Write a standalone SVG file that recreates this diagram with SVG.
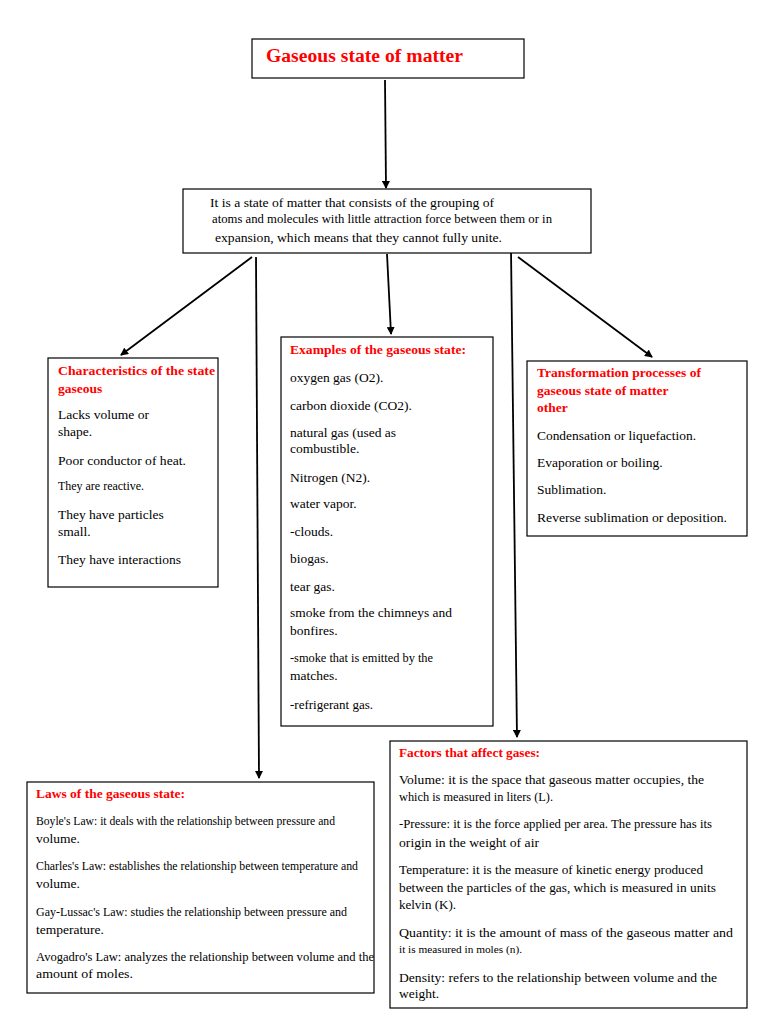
<svg xmlns="http://www.w3.org/2000/svg" width="768" height="1024" viewBox="0 0 768 1024">
<style>
.box{fill:#fff;stroke:#000;stroke-width:1.2}
text{font-family:"Liberation Serif","Times New Roman",serif;fill:#000;font-size:13.5px}
.t{fill:#ff0000;font-weight:bold}
.s{font-size:12px}
.c{stroke:#000;stroke-width:1.8;fill:none;marker-end:url(#ah)}
</style>
<defs>
<marker id="ah" markerWidth="8" markerHeight="8" refX="7" refY="4" orient="auto" markerUnits="userSpaceOnUse">
<path d="M0,0 L8,4 L0,8 Z" fill="#000"/>
</marker>
</defs>
<rect width="768" height="1024" fill="#fff"/>

<g id="connectors">
<line class="c" x1="385" y1="80" x2="386" y2="188"/>
<line class="c" x1="252" y1="257" x2="121" y2="355"/>
<line class="c" x1="256" y1="257" x2="259" y2="778"/>
<line class="c" x1="387" y1="254" x2="391" y2="334"/>
<line class="c" x1="511" y1="250" x2="517" y2="737"/>
<line class="c" x1="518" y1="257" x2="652" y2="357"/>
</g>

<g id="title">
<rect class="box" x="252" y="39" width="272" height="39"/>
<text class="t" x="266" y="62" style="font-size:18px" textLength="197" lengthAdjust="spacingAndGlyphs">Gaseous state of matter</text>
</g>

<g id="definition">
<rect class="box" x="183" y="189" width="408" height="64"/>
<text x="210" y="207" textLength="284" lengthAdjust="spacingAndGlyphs">It is a state of matter that consists of the grouping of</text>
<text class="s" x="212" y="223" textLength="340" lengthAdjust="spacingAndGlyphs">atoms and molecules with little attraction force between them or in</text>
<text x="215" y="242" textLength="287" lengthAdjust="spacingAndGlyphs">expansion, which means that they cannot fully unite.</text>
</g>

<g id="characteristics">
<rect class="box" x="48" y="358" width="170" height="229"/>
<text class="t" x="58" y="375" textLength="157" lengthAdjust="spacingAndGlyphs">Characteristics of the state</text>
<text class="t" x="58" y="393">gaseous</text>
<text x="58" y="419" textLength="91" lengthAdjust="spacingAndGlyphs">Lacks volume or</text>
<text x="58" y="436">shape.</text>
<text x="58" y="465" textLength="128" lengthAdjust="spacingAndGlyphs">Poor conductor of heat.</text>
<text class="s" x="58" y="490" textLength="86" lengthAdjust="spacingAndGlyphs">They are reactive.</text>
<text x="58" y="519">They have particles</text>
<text x="58" y="536">small.</text>
<text x="58" y="564" textLength="123" lengthAdjust="spacingAndGlyphs">They have interactions</text>
</g>

<g id="examples">
<rect class="box" x="281" y="337" width="212" height="389"/>
<text class="t" x="290" y="354" textLength="176" lengthAdjust="spacingAndGlyphs">Examples of the gaseous state:</text>
<text x="290" y="382">oxygen gas (O2).</text>
<text x="290" y="410">carbon dioxide (CO2).</text>
<text x="290" y="437">natural gas (used as</text>
<text x="290" y="453">combustible.</text>
<text x="290" y="482">Nitrogen (N2).</text>
<text x="290" y="508">water vapor.</text>
<text x="290" y="536">-clouds.</text>
<text x="290" y="563">biogas.</text>
<text x="290" y="591">tear gas.</text>
<text x="290" y="617" textLength="162" lengthAdjust="spacingAndGlyphs">smoke from the chimneys and</text>
<text x="290" y="635">bonfires.</text>
<text class="s" x="290" y="662" textLength="143" lengthAdjust="spacingAndGlyphs">-smoke that is emitted by the</text>
<text x="290" y="680">matches.</text>
<text x="290" y="709" textLength="83" lengthAdjust="spacingAndGlyphs">-refrigerant gas.</text>
</g>

<g id="transformation">
<rect class="box" x="527" y="361" width="220" height="175"/>
<text class="t" x="537" y="377" textLength="164" lengthAdjust="spacingAndGlyphs">Transformation processes of</text>
<text class="t" x="537" y="395">gaseous state of matter</text>
<text class="t" x="537" y="412">other</text>
<text x="537" y="440" textLength="159" lengthAdjust="spacingAndGlyphs">Condensation or liquefaction.</text>
<text x="537" y="467">Evaporation or boiling.</text>
<text x="537" y="494">Sublimation.</text>
<text x="537" y="522" textLength="190" lengthAdjust="spacingAndGlyphs">Reverse sublimation or deposition.</text>
</g>

<g id="laws">
<rect class="box" x="27" y="782" width="347" height="211"/>
<text class="t" x="36" y="798" textLength="149" lengthAdjust="spacingAndGlyphs">Laws of the gaseous state:</text>
<text class="s" x="36" y="825" textLength="299" lengthAdjust="spacingAndGlyphs">Boyle's Law: it deals with the relationship between pressure and</text>
<text x="36" y="843">volume.</text>
<text class="s" x="36" y="870" textLength="322" lengthAdjust="spacingAndGlyphs">Charles's Law: establishes the relationship between temperature and</text>
<text x="36" y="888">volume.</text>
<text class="s" x="36" y="916" textLength="311" lengthAdjust="spacingAndGlyphs">Gay-Lussac's Law: studies the relationship between pressure and</text>
<text x="36" y="934">temperature.</text>
<text class="s" x="36" y="961" textLength="338" lengthAdjust="spacingAndGlyphs">Avogadro's Law: analyzes the relationship between volume and the</text>
<text x="36" y="978" textLength="97" lengthAdjust="spacingAndGlyphs">amount of moles.</text>
</g>

<g id="factors">
<rect class="box" x="390" y="741" width="357" height="267"/>
<text class="t" x="399" y="757" textLength="141" lengthAdjust="spacingAndGlyphs">Factors that affect gases:</text>
<text x="399" y="784" textLength="305" lengthAdjust="spacingAndGlyphs">Volume: it is the space that gaseous matter occupies, the</text>
<text class="s" x="399" y="801" textLength="154" lengthAdjust="spacingAndGlyphs">which is measured in liters (L).</text>
<text class="s" x="399" y="828" textLength="313" lengthAdjust="spacingAndGlyphs">-Pressure: it is the force applied per area. The pressure has its</text>
<text x="399" y="847" textLength="140" lengthAdjust="spacingAndGlyphs">origin in the weight of air</text>
<text x="399" y="874" textLength="304" lengthAdjust="spacingAndGlyphs">Temperature: it is the measure of kinetic energy produced</text>
<text x="399" y="892" textLength="317" lengthAdjust="spacingAndGlyphs">between the particles of the gas, which is measured in units</text>
<text x="399" y="909" textLength="57" lengthAdjust="spacingAndGlyphs">kelvin (K).</text>
<text x="399" y="937" textLength="334" lengthAdjust="spacingAndGlyphs">Quantity: it is the amount of mass of the gaseous matter and</text>
<text class="s" x="399" y="953" style="font-size:11px" textLength="123" lengthAdjust="spacingAndGlyphs">it is measured in moles (n).</text>
<text x="399" y="982" textLength="318" lengthAdjust="spacingAndGlyphs">Density: refers to the relationship between volume and the</text>
<text x="399" y="998" textLength="40" lengthAdjust="spacingAndGlyphs">weight.</text>
</g>
</svg>
